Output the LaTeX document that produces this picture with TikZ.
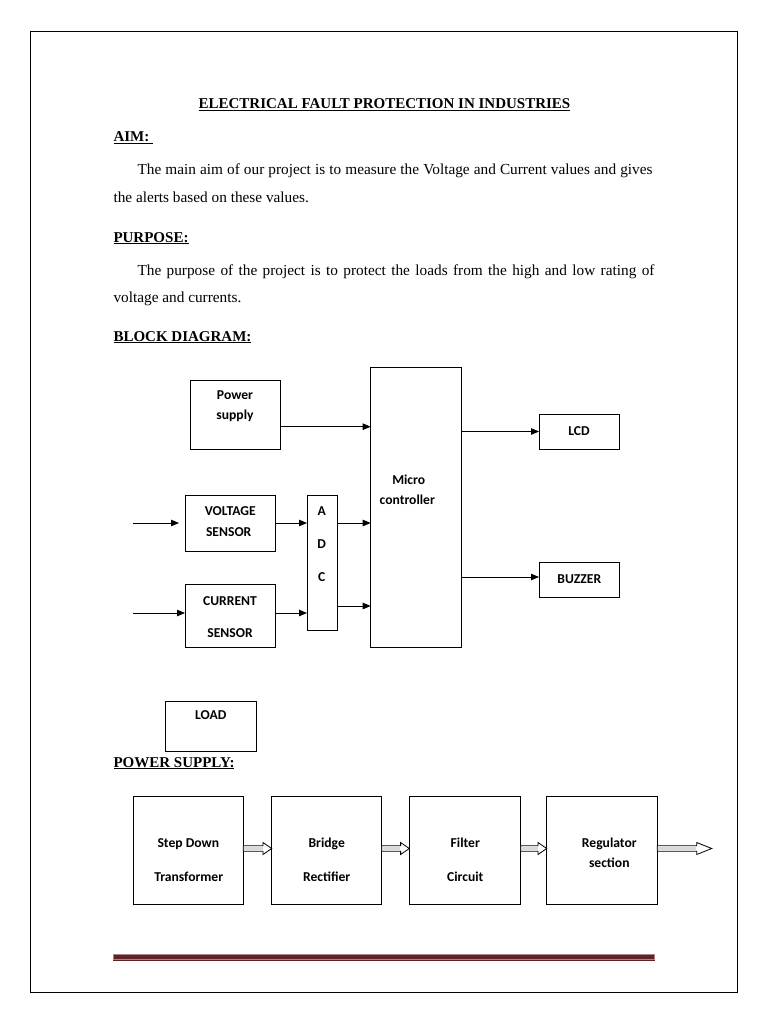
\documentclass[tikz,border=0pt]{standalone}
\usepackage{fontspec}
\setmainfont{Liberation Serif}
\newfontfamily\calib{Carlito}
\usetikzlibrary{arrows.meta,calc}
\definecolor{maroonline}{RGB}{96,34,36}
\newcommand\hollowarr[3]{%
  \draw[line width=0.8pt, fill=white] let \p1=(#1), \p2=(#2) in
    (\x1,\y1+2.8pt) -- (\x2-#3,\y1+2.8pt) -- (\x2-#3,\y1+6pt) -- (\x2,\y1)
    -- (\x2-#3,\y1-6pt) -- (\x2-#3,\y1-2.8pt) -- (\x1,\y1-2.8pt) -- cycle;
  \fill[gray!30] let \p1=(#1), \p2=(#2) in
    (\x1+0.5pt,\y1+1.8pt) rectangle (\x2-#3-0.4pt,\y1-1.8pt);
}
\begin{document}
\begin{tikzpicture}[x=1pt,y=-1pt,
  box/.style={draw, line width=1pt, inner sep=0pt, outer sep=0pt, anchor=north west},
  btxt/.style={font=\calib\bfseries\fontsize{13.6}{16}\selectfont, anchor=base, inner sep=0pt},
  ptxt/.style={font=\calib\bfseries\fontsize{13.6}{16}\selectfont, anchor=base, inner sep=0pt},
  body/.style={font=\fontsize{15.3}{18}\selectfont, anchor=base west, inner sep=0pt},
  head/.style={font=\bfseries\fontsize{15}{18}\selectfont, anchor=base west, inner sep=0pt},
  arr/.style={line width=0.8pt, -{Triangle[length=8pt,width=6.5pt]}}]
\useasboundingbox (0,0) rectangle (768,1024);
\fill[white] (0,0) rectangle (768,1024);
% page frame
\draw[line width=1.3pt] (30.7,31.7) rectangle (737.3,992.3);

% headings and text
\node[font=\bfseries\fontsize{15}{18}\selectfont, anchor=base, inner sep=0pt] (title) at (384.5,108.3)
  {\underline{ELECTRICAL FAULT PROTECTION IN INDUSTRIES}};
\node[head] (aim) at (113.3,142) {\underline{AIM:\ }};
\node[body] (p1a) at (137.3,175) {\makebox[515pt][s]{The main aim of our project is to measure the Voltage and Current values and gives}};
\node[body] (p1b) at (113.3,202.5) {the alerts based on these values.};
\node[head] (purp) at (113.3,242) {\underline{PURPOSE:}};
\node[body] (p2a) at (137.3,275) {\makebox[517pt][s]{The purpose of the project is to protect the loads from the high and low rating of}};
\node[body] (p2b) at (113.3,302.5) {voltage and currents.};
\node[head] (bd) at (113.3,341) {\underline{BLOCK DIAGRAM:}};
\node[head] (psh) at (113.3,767) {\underline{POWER SUPPLY:}};

% block diagram boxes
\node[box, minimum width=90.7pt, minimum height=69pt] (power) at (190,380) {};
\node[box, minimum width=90.6pt, minimum height=280pt] (mc) at (370.7,367) {};
\node[box, minimum width=80pt, minimum height=35pt] (lcd) at (539,414) {};
\node[box, minimum width=80pt, minimum height=35pt] (buzzer) at (539,562) {};
\node[box, minimum width=90pt, minimum height=56pt] (vs) at (185,495) {};
\node[box, minimum width=90pt, minimum height=63pt] (cs) at (185,584) {};
\node[box, minimum width=30pt, minimum height=135pt] (adc) at (307,495) {};
\node[box, minimum width=91.7pt, minimum height=49.3pt] (load) at (165,701.7) {};

\node[btxt] (t-power1) at (235,399.3) {Power};
\node[btxt] (t-power2) at (235,419.3) {supply};
\node[btxt] (t-mc1) at (408.7,484) {Micro};
\node[btxt] (t-mc2) at (407.3,504) {controller};
\node[btxt] (t-lcd) at (579,435.3) {LCD};
\node[btxt] (t-buz) at (579.3,583.3) {BUZZER};
\node[btxt] (t-vs1) at (230.3,515.3) {VOLTAGE};
\node[btxt] (t-vs2) at (228.7,536) {SENSOR};
\node[btxt] (t-cs1) at (230,605) {CURRENT};
\node[btxt] (t-cs2) at (230,637.3) {SENSOR};
\node[btxt] (t-a) at (321.7,515.3) {A};
\node[btxt] (t-d) at (321.7,548.3) {D};
\node[btxt] (t-c) at (321.7,581.7) {C};
\node[btxt] (t-load) at (210.7,719.3) {LOAD};

% block diagram connectors
\coordinate (vin) at (133,523);
\coordinate (cin) at (133,613);
\draw[arr] ([yshift=-12.2pt]power.east) -- ([yshift=-12.2pt]power.east -| mc.west);
\draw[arr] (mc.east |- lcd.west) -- (lcd.west);
\draw[arr] ([yshift=2.5pt]buzzer.west -| mc.east) -- ([yshift=2.5pt]buzzer.west);
\draw[arr] (vin) -- ([xshift=-6pt]vs.west |- vin);
\draw[arr] (vs.east |- vin) -- (adc.west |- vin);
\draw[arr] (adc.east |- vin) -- (mc.west |- vin);
\draw[arr] (cin) -- (cs.west |- cin);
\draw[arr] (cs.east |- cin) -- (adc.west |- cin);
\draw[arr] ([yshift=24pt]adc.south east) -- ([yshift=24pt]adc.south east -| mc.west);

% power supply chain
\node[box, minimum width=110pt, minimum height=107.6pt] (sd) at (133.3,796.7) {};
\node[box, minimum width=110pt, minimum height=107.6pt] (br) at (271.7,796.7) {};
\node[box, minimum width=111.4pt, minimum height=107.6pt] (fc) at (409.3,796.7) {};
\node[box, minimum width=110.6pt, minimum height=107.6pt] (rs) at (546.7,796.7) {};
\node[ptxt] (t-sd1) at (188.3,847.7) {Step Down};
\node[ptxt] (t-sd2) at (188.7,881) {Transformer};
\node[ptxt] (t-br1) at (326.7,847.7) {Bridge};
\node[ptxt] (t-br2) at (326.7,881) {Rectifier};
\node[ptxt] (t-fc1) at (465.3,847.7) {Filter};
\node[ptxt] (t-fc2) at (465.3,881) {Circuit};
\node[ptxt] (t-rs1) at (609.3,847.7) {Regulator};
\node[ptxt] (t-rs2) at (609.3,867.3) {section};
\coordinate (psout) at (711.7,849);
\hollowarr{[yshift=2pt]sd.east}{br.west}{8.7pt}
\hollowarr{[yshift=2pt]br.east}{fc.west}{8.7pt}
\hollowarr{[yshift=2pt]fc.east}{rs.west}{8.7pt}
\hollowarr{[yshift=2pt]rs.east}{psout}{15pt}

% footer rule
\fill[maroonline, draw=maroonline!55, line width=0.4pt] (113.3,954.3) rectangle (654.6,958.7);
\draw[maroonline, line width=1pt] (113.3,960.2) -- (654.6,960.2);
\end{tikzpicture}
\end{document}
